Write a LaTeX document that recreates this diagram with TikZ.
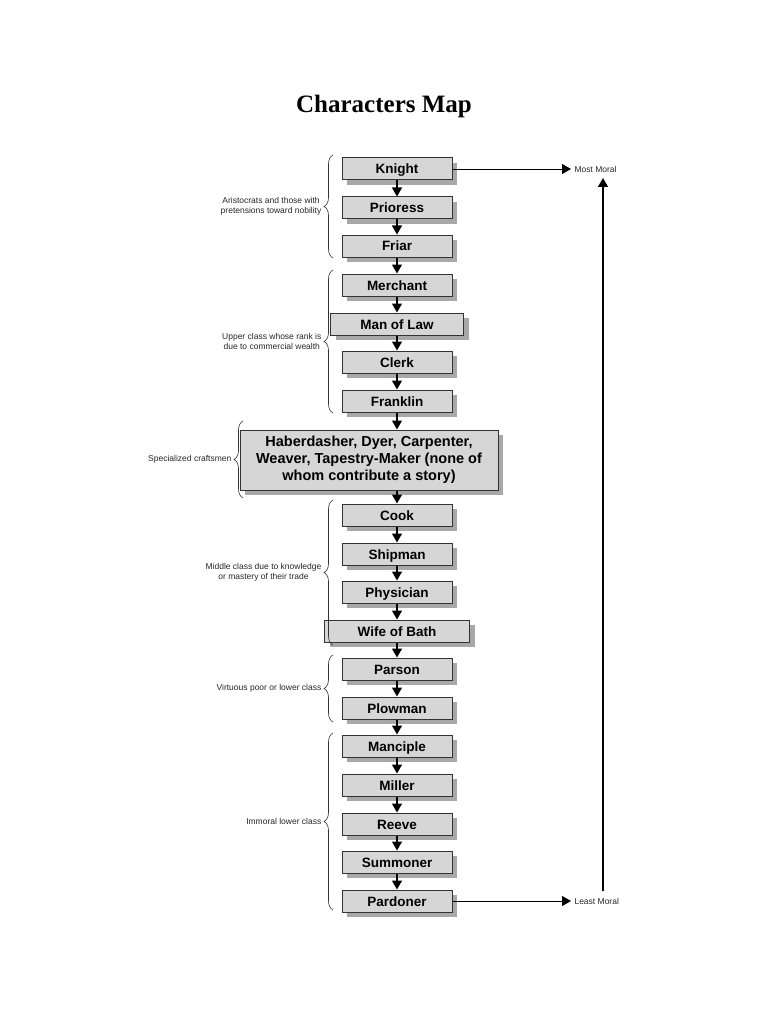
\documentclass[tikz,border=0pt]{standalone}
\usepackage{fontspec}
\setmainfont{Liberation Serif}
\newfontfamily\lsans{Liberation Sans}
\usetikzlibrary{decorations.pathreplacing,arrows.meta,shadows}
\definecolor{boxfill}{HTML}{D6D6D6}
\definecolor{shade}{HTML}{A8A8A8}
\tikzset{
 charbox/.style={draw=black!80,line width=1pt,fill=boxfill,font=\lsans\bfseries\fontsize{13.5}{15}\selectfont,minimum height=22pt,text height=10pt,text depth=0pt,inner sep=2pt,drop shadow={shadow xshift=5pt,shadow yshift=-5pt,fill=shade,opacity=1}},
 lbl/.style={font=\lsans\fontsize{8.5}{10}\selectfont,align=center,text=black!85},
 flow/.style={-{Triangle[length=9pt,width=10pt]},line width=1.3pt},
 brc/.style={decorate,decoration={brace,amplitude=9pt},line width=0.6pt,black!80}
}
\begin{document}
\begin{tikzpicture}[x=1pt,y=-1pt]
\useasboundingbox (0,0) rectangle (768,1024);
\node[font=\bfseries\fontsize{25}{28}\selectfont] (title) at (384,106) {Characters Map};
\foreach \n/\t/\y/\w in {k/Knight/169/110,p/Prioress/208/110,f/Friar/246/110,me/Merchant/285/110,ml/Man of Law/324/133,c/Clerk/362/110,fr/Franklin/401/110,co/Cook/515/110,sh/Shipman/554/110,ph/Physician/592/110,wb/Wife of Bath/631/145,pa/Parson/669/110,pl/Plowman/708/110,mn/Manciple/746/110,mi/Miller/785/110,re/Reeve/824/110,su/Summoner/862/110,pd/Pardoner/901/110}
  \node[charbox,minimum width=\w pt] (\n) at (397,\y) {\t};
\node[charbox,align=center,minimum width=258pt,minimum height=60pt,text height=,text depth=,font=\lsans\bfseries\fontsize{14.5}{17}\selectfont] (big) at (369,460)
 {Haberdasher, Dyer, Carpenter,\\Weaver, Tapestry-Maker (none of\\whom contribute a story)};
\foreach \a/\b in {k/p,p/f,f/me,me/ml,ml/c,c/fr,fr/big,big/co,co/sh,sh/ph,ph/wb,wb/pa,pa/pl,pl/mn,mn/mi,mi/re,re/su,su/pd}
  \draw[flow] (\a.south -| 397,0) -- (\b.north -| 397,0);
\node[lbl,anchor=west] (mm) at (571,169) {Most Moral};
\node[lbl,anchor=west] (lm) at (571,901) {Least Moral};
\draw[flow,line width=0.9pt] (k.east) -- (mm.west);
\draw[flow,line width=0.9pt] (pd.east) -- (lm.west);
\coordinate (vb) at (603,891);
\coordinate (vt) at (603,178);
\draw[flow,line width=1.5pt] (vb) -- (vt);
\draw[brc] (333,258) -- (333,155) node[midway,left=8pt,lbl] (g1) {Aristocrats and those with\\pretensions toward nobility};
\draw[brc] (333,413) -- (333,270) node[midway,left=8pt,lbl] (g2) {Upper class whose rank is\\due to commercial wealth};
\draw[brc] (243,498) -- (243,421) node[midway,left=8pt,lbl] (g3) {Specialized craftsmen};
\draw[brc] (333,645) -- (333,500) node[midway,left=8pt,lbl] (g4) {Middle class due to knowledge\\or mastery of their trade};
\draw[brc] (333,722) -- (333,655) node[midway,left=8pt,lbl] (g5) {Virtuous poor or lower class};
\draw[brc] (333,910) -- (333,733) node[midway,left=8pt,lbl] (g6) {Immoral lower class};
\end{tikzpicture}
\end{document}
